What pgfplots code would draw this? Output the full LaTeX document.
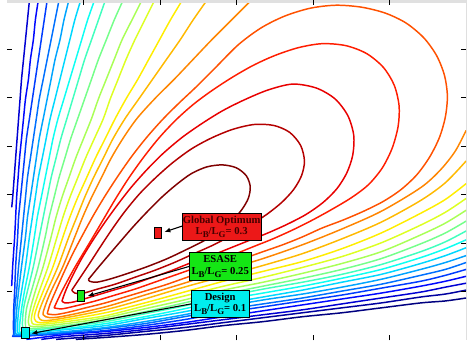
\documentclass[border=0pt]{standalone}
\usepackage{pgfplots}
\pgfplotsset{compat=1.18}
\usetikzlibrary{arrows.meta}
\usepackage{fontspec}
\setmainfont{Liberation Serif}
\definecolor{c1}{RGB}{128,0,0}
\definecolor{c2}{RGB}{180,0,0}
\definecolor{c3}{RGB}{232,0,0}
\definecolor{c4}{RGB}{255,29,0}
\definecolor{c5}{RGB}{255,81,0}
\definecolor{c6}{RGB}{255,133,0}
\definecolor{c7}{RGB}{255,185,0}
\definecolor{c8}{RGB}{255,237,0}
\definecolor{c9}{RGB}{221,255,34}
\definecolor{c10}{RGB}{169,255,86}
\definecolor{c11}{RGB}{117,255,138}
\definecolor{c12}{RGB}{65,255,190}
\definecolor{c13}{RGB}{13,255,242}
\definecolor{c14}{RGB}{0,216,255}
\definecolor{c15}{RGB}{0,164,255}
\definecolor{c16}{RGB}{0,112,255}
\definecolor{c17}{RGB}{0,60,255}
\definecolor{c18}{RGB}{0,8,255}
\definecolor{c19}{RGB}{0,0,211}
\definecolor{c20}{RGB}{0,0,159}
\definecolor{c21}{RGB}{0,0,128}
\definecolor{boxred}{RGB}{236,24,24}
\definecolor{boxgreen}{RGB}{20,230,20}
\definecolor{boxcyan}{RGB}{0,238,238}
\pgfplotsset{ct/.style={line width=1.5pt, smooth, tension=0.5, mark=none, line join=round}}
\newcommand{\sub}[1]{\raisebox{-3.2pt}{\fontsize{9}{9}\selectfont #1}}
\begin{document}
\begin{tikzpicture}
\begin{axis}[
  name=ax, at={(0,0)}, anchor=south west,
  width=466pt, height=345pt, scale only axis,
  xmin=0, xmax=466, ymin=0, ymax=345, y dir=reverse,
  xtick={77.7,155.3,233,310.7,388.3},
  ytick={49.3,98.6,147.9,197.1,246.4,295.7},
  xticklabels={}, yticklabels={},
  major tick length=5pt, tick style={black, line width=0.6pt},
  axis line style={draw=none},
  axis on top,
]
\addplot[ct, c21] coordinates {(70,344) (100,342) (140,339) (180,335) (220,330) (260,326) (300,321) (340,317) (380,312) (420,307) (445,305) (466,302)};
\addplot[ct, c20] coordinates {(50,344) (100,340) (140,336) (180,332) (220,327) (260,322) (300,317) (340,312) (380,307) (420,301) (445,298) (466,294)};
\addplot[ct, c19] coordinates {(23,0) (21,20) (19,40) (17,60) (15,80) (13.5,100) (12,120) (10.5,140) (9,160) (7.5,180) (6,200) (5,210)};
\addplot[ct, c19] coordinates {(35,344) (60,341) (100,338) (140,334) (180,329) (220,324) (260,319) (300,314) (340,308) (380,302) (420,296) (445,291) (466,287)};
\addplot[ct, c18] coordinates {(32,0) (29,20) (27,40) (24,60) (22,80) (19,100) (17,120) (15,140) (13,160) (11.5,180) (10,200) (9,220) (8,240) (6,270) (5,290)};
\addplot[ct, c18] coordinates {(20,344) (60,339) (100,336) (140,332) (180,327) (220,321) (260,315) (300,309) (340,303) (380,297) (420,290) (445,285) (466,280)};
\addplot[ct, c17] coordinates {(41,0) (38,20) (35,40) (32,60) (29,80) (26,100) (23,120) (20,140) (18,160) (16,180) (14,200) (12,220) (11,240) (9,270) (8,295) (7,315) (7,338) (10,341) (60,338) (100,335) (140,330) (180,324) (220,317) (260,311) (300,305) (340,299) (380,292) (420,285) (445,279) (466,273)};
\addplot[ct, c16] coordinates {(53,0) (49,20) (45,40) (41,60) (37,80) (33,100) (30,120) (27,140) (24,160) (21,180) (19,200) (17,220) (15,240) (12,270) (10,295) (8,315) (8,336) (11,340) (60,337) (100,333) (140,328) (180,321) (220,314) (260,308) (300,302) (340,295) (380,288) (420,279) (445,273) (466,266)};
\addplot[ct, c15] coordinates {(63,0) (58,20) (54,40) (49,60) (45,80) (41,100) (37,120) (33,140) (30,160) (27,180) (24,200) (21,220) (19,240) (15,270) (12,295) (10,315) (9,334) (13,339) (60,336) (100,332) (140,326) (180,319) (220,311) (260,304) (300,298) (340,291) (380,283) (420,273) (445,266) (466,259)};
\addplot[ct, c14] coordinates {(75,0) (69,20) (64,40) (59,60) (54,80) (49,100) (44,120) (40,140) (36,160) (32,180) (29,200) (26,220) (23,240) (19,270) (15,295) (12,315) (11,333) (15,338) (60,334) (100,330) (140,323) (180,316) (220,308) (260,301) (300,294) (340,286) (380,278) (420,267) (445,259) (466,251)};
\addplot[ct, c13] coordinates {(89,0) (82,20) (76,40) (70,60) (64,80) (58,100) (52,120) (47,140) (43,160) (39,180) (35,200) (31,220) (28,240) (23,270) (18,295) (15,313) (13,333) (17,337) (60,333) (100,328) (140,321) (180,313) (220,304) (260,297) (300,290) (340,282) (380,273) (420,261) (445,252) (466,243)};
\addplot[ct, c12] coordinates {(100,0) (93,20) (86,40) (79,60) (73,80) (67,100) (61,120) (55,140) (50,160) (45,180) (41,200) (37,220) (33,240) (27,270) (21,295) (17,313) (16,331) (20,335) (60,331) (100,326) (140,318) (180,310) (220,301) (260,293) (300,286) (340,278) (380,268) (420,255) (445,245) (466,234)};
\addplot[ct, c11] coordinates {(118,0) (109,20) (101,40) (93,60) (86,80) (79,100) (72,120) (65,140) (59,160) (53,180) (48,200) (43,220) (39,240) (32,270) (25,295) (20,313) (19,329) (23,333) (60,330) (100,324) (140,316) (180,307) (220,298) (260,290) (300,282) (340,273) (380,262) (420,247) (445,236) (466,224)};
\addplot[ct, c10] coordinates {(137,0) (127,20) (117,40) (109,60) (101,80) (93,100) (86,120) (78,140) (70,160) (63,180) (56,200) (50,220) (45,240) (37,270) (29,295) (24,313) (22,327) (27,331) (60,328) (100,322) (140,313) (180,304) (220,294) (260,286) (300,277) (340,267) (380,255) (420,238) (445,226) (466,213)};
\addplot[ct, c9] coordinates {(150,0) (140,20) (130,40) (121,60) (113,80) (105,100) (98,120) (89,140) (80,160) (72,180) (64,200) (57,220) (51,240) (42,270) (33,295) (27,313) (25,325) (30,329) (60,326) (100,320) (140,310) (180,300) (220,290) (260,281) (300,271) (340,260) (380,246) (420,228) (445,215) (466,201)};
\addplot[ct, c8] coordinates {(178,0) (166,20) (155,40) (144,60) (133,80) (121,100) (110,120) (100,140) (90,160) (81,180) (72,200) (64,220) (57,240) (47,270) (37,295) (30,313) (28,323) (34,327) (60,324) (100,317) (140,307) (180,296) (220,285) (260,275) (300,265) (340,252) (380,236) (420,216) (445,202) (466,186)};
\addplot[ct, c7] coordinates {(203,0) (189,20) (176,40) (162,60) (148,80) (134,100) (120,120) (108,140) (98,160) (88,180) (79,200) (71,220) (63,240) (52,270) (41,295) (34,312) (32,321) (38,325) (60,322) (100,314) (140,303) (180,291) (220,280) (260,269) (300,257) (340,242) (380,225) (420,203) (445,185) (466,163)};
\addplot[ct, c6] coordinates {(248,0) (228,20) (208,40) (189,60) (170,80) (150,100) (132,120) (118,140) (106,160) (96,180) (86,200) (77,220) (69,240) (57,270) (45,295) (39,310) (37,319) (44,322) (60,320) (100,311) (140,299) (180,287) (220,274) (260,262) (300,248) (340,232) (380,214) (420,190) (440,172) (455,153) (466,132)};
\addplot[ct, c5] coordinates {(41,318) (44,308) (50,294) (58,276) (67,257) (77,238) (88,218) (100,198) (113,178) (127,158) (142,139) (158,121) (175,104) (192,88) (212,68) (235,45) (258,28) (282,16) (308,8) (334,5) (360,7) (384,13) (405,23) (423,38) (436,56) (444,76) (447,97) (445,118) (439,139) (429,159) (416,177) (400,192) (382,204) (362,214) (341,223) (320,231) (300,240) (280,248) (260,255) (240,262) (220,268) (200,275) (180,282) (160,289) (140,295) (120,301) (100,307) (80,312) (60,317) (48,319) (41,318)};
\addplot[ct, c4] coordinates {(48,312) (56,295) (69,271) (84,246) (97,224) (110,202) (124,180) (139,159) (155,139) (172,121) (190,105) (209,91) (229,78) (250,66) (272,56) (296,48) (320,44) (344,46) (365,54) (382,68) (393,86) (398,107) (397,128) (391,150) (381,170) (367,187) (350,200) (330,212) (310,223) (290,233) (270,242) (250,250) (230,258) (210,265) (190,272) (170,279) (150,286) (130,293) (110,299) (90,305) (70,310) (56,313) (48,312)};
\addplot[ct, c3] coordinates {(56,305) (60,294) (67,279) (76,262) (87,244) (99,226) (112,208) (126,190) (142,172) (159,155) (178,139) (198,125) (219,112) (241,101) (265,91) (290,85) (314,89) (333,100) (346,117) (352,137) (351,157) (345,175) (335,191) (321,205) (304,217) (285,227) (265,236) (245,244) (225,252) (205,260) (185,267) (165,275) (145,282) (125,289) (105,295) (85,301) (68,306) (59,307) (56,305)};
\addplot[ct, c2] coordinates {(66,294) (74,282) (84,267) (95,250) (107,232) (120,214) (135,196) (151,180) (168,165) (187,151) (207,140) (229,131) (251,126) (271,127) (287,134) (298,147) (302,163) (299,178) (291,192) (279,205) (264,217) (247,228) (229,238) (210,248) (190,257) (170,266) (150,274) (130,281) (110,288) (92,293) (78,297) (69,297) (66,294)};
\addplot[ct, c1] coordinates {(83,283) (92,272) (103,259) (115,245) (128,230) (142,215) (157,200) (172,187) (187,176) (203,169) (219,167) (233,170) (243,178) (247,189) (245,201) (238,213) (228,224) (216,234) (200,244) (182,253) (163,262) (143,270) (123,277) (104,283) (91,286) (84,285) (83,283)};
\addplot[black, line width=1.1pt, mark=none, -{Latex[length=6pt,width=5pt]}] coordinates {(178,229) (160,235)};
\addplot[black, line width=1.1pt, mark=none, -{Latex[length=6pt,width=5pt]}] coordinates {(185,270) (82,300)};
\addplot[black, line width=1.1pt, mark=none, -{Latex[length=6pt,width=5pt]}] coordinates {(187,308) (25,338)};
\addplot[only marks, mark=square*, mark size=4.2pt, mark options={fill=boxred, draw=black, line width=0.6pt, yscale=1.3, xscale=0.9}] coordinates {(153,236)};
\addplot[only marks, mark=square*, mark size=4.2pt, mark options={fill=boxgreen, draw=black, line width=0.6pt, yscale=1.3, xscale=0.9}] coordinates {(75,300)};
\addplot[only marks, mark=square*, mark size=4.2pt, mark options={fill=boxcyan, draw=black, line width=0.6pt, yscale=1.3, xscale=0.9}] coordinates {(19,337)};
\node[draw=black, line width=0.8pt, fill=boxred, minimum width=80pt, minimum height=28pt, inner sep=0pt, align=center, text={rgb,255:red,70;green,0;blue,0}, font=\bfseries\fontsize{10.8}{11.5}\selectfont] at (axis cs:218,230) {Global Optimum\\L\sub{B}/L\sub{G}= 0.3};
\node[draw=black, line width=0.8pt, fill=boxgreen, minimum width=63pt, minimum height=28pt, inner sep=0pt, align=center, text=black, font=\bfseries\fontsize{10.8}{11.5}\selectfont] at (axis cs:216.5,270) {ESASE\\L\sub{B}/L\sub{G}= 0.25};
\node[draw=black, line width=0.8pt, fill=boxcyan, minimum width=59pt, minimum height=28pt, inner sep=0pt, align=center, text=black, font=\bfseries\fontsize{10.8}{11.5}\selectfont] at (axis cs:216.5,308) {Design\\L\sub{B}/L\sub{G}= 0.1};
\fill[black!12] (axis cs:0,0) rectangle (axis cs:466,3);
\draw[black, line width=0.8pt] (axis cs:466,0) -- (axis cs:466,345);
\end{axis}
\path (ax.north east) -- ++(8pt,0);
\end{tikzpicture}
\end{document}
